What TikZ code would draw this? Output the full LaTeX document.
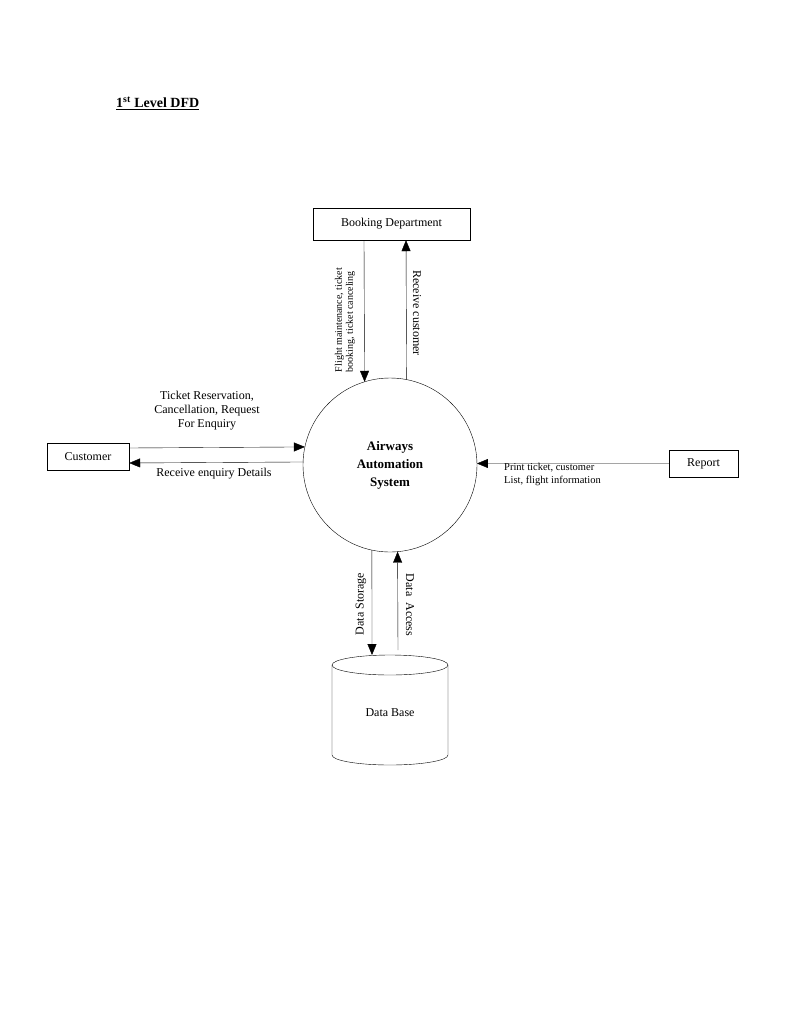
\documentclass[tikz,border=0pt]{standalone}
\usepackage{fontspec}
\setmainfont{Liberation Serif}
\usetikzlibrary{arrows.meta}
\begin{document}
\begin{tikzpicture}[x=1pt,y=1pt,
  box/.style={draw,inner sep=0,minimum height=#1},
  arr/.style={draw,-{Triangle[length=11pt,width=9pt]}},
  lab/.style={font=\fontsize{12}{14}\selectfont,inner sep=1pt,align=center},
  small/.style={font=\fontsize{10.5}{12.5}\selectfont,inner sep=1pt,align=left}]
\useasboundingbox (0,0) rectangle (791,-1023);
\node[font=\bfseries\fontsize{14}{16}\selectfont,anchor=west,inner sep=0] (title) at (116,-103) {\underline{1\textsuperscript{st} Level DFD}};
\node[box=32pt,minimum width=157pt,lab] (book) at (391.5,-224) {Booking Department};
\node[draw,circle,minimum size=174pt,inner sep=0,outer sep=0,align=center,font=\bfseries\fontsize{13}{18}\selectfont] (sys) at (390,-465) {Airways\\Automation\\System};
\node[box=27pt,minimum width=82pt,lab] (cust) at (88,-456.5) {Customer};
\node[box=27pt,minimum width=69pt,lab] (rep) at (703.5,-463.5) {Report};
% cylinder
\draw (332,-665) -- (332,-755) arc[start angle=180,end angle=360,x radius=58,y radius=10] -- (448,-665);
\draw (390,-665) ellipse[x radius=58,y radius=10];
\node[lab] (db) at (390,-713) {Data Base};
\coordinate (dbA) at (372,-655);
\coordinate (dbB) at (398,-650);
% arrows
\draw[arr] (book.south -| 364,0) -- (sys.107.4);
\draw[arr] (sys.79.4) -- (book.south -| 406,0);
\draw[arr] (cust.east |- 0,-448) -- (sys.168.7);
\draw[arr] (sys.178.7) -- (cust.east |- 0,-463);
\draw[arr] (rep.west) -- (sys.1.3);
\draw[arr] (sys.258) -- (dbA);
\draw[arr] (dbB) -- (sys.275.3);
% labels
\node[small,rotate=90,align=left,font=\fontsize{10}{11}\selectfont] (l1) at (345,-320) {Flight maintenance, ticket\\booking, ticket canceling};
\node[lab,rotate=-90] (l2) at (417,-313) {Receive customer};
\node[lab] (l3) at (207,-411) {Ticket Reservation,\\Cancellation, Request\\For Enquiry};
\node[lab] (l4) at (214,-474) {Receive enquiry Details};
\node[small,anchor=west,align=left] (l5) at (503,-474.5) {Print ticket, customer\\List, flight information};
\node[lab,rotate=90] (l6) at (361,-604) {Data Storage};
\node[lab,rotate=-90] (l7) at (410,-605) {Data~~Access};
\end{tikzpicture}
\end{document}
